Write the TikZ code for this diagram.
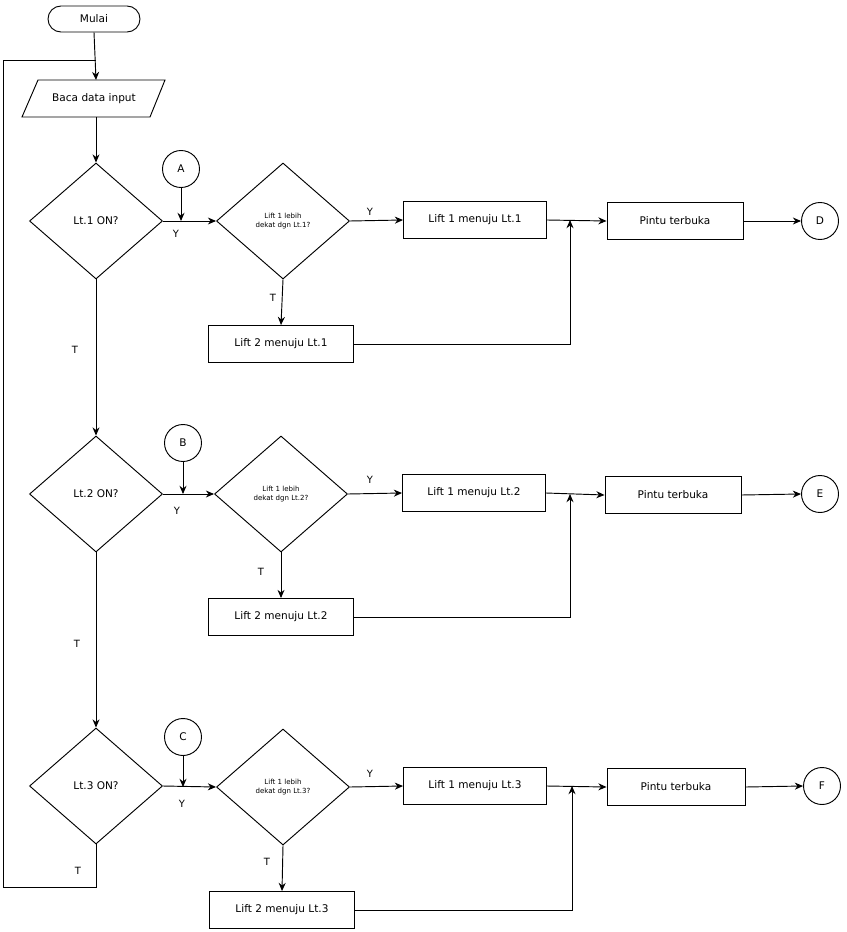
\documentclass[tikz,border=0pt]{standalone}
\usepackage{fontspec}
\setmainfont{DejaVu Sans}
\usetikzlibrary{shapes.geometric,arrows.meta}
\begin{document}
\begin{tikzpicture}[x=0.03cm,y=-0.03cm,
  every node/.style={font=\fontsize{9}{10}\selectfont},
  box/.style={draw,thick,minimum width=143*0.03cm,minimum height=37*0.03cm,inner sep=0},
  dia/.style={draw,thick,diamond,minimum width=133*0.03cm,minimum height=116*0.03cm,inner sep=0,aspect=1.15},
  circ/.style={draw,thick,circle,minimum size=37*0.03cm,inner sep=0},
  lbl/.style={font=\fontsize{8.5}{9}\selectfont},
  small/.style={font=\fontsize{6}{7}\selectfont,align=center},
  arr/.style={thick,-{Stealth[length=7pt,width=6pt]}},
  ln/.style={thick}]
\useasboundingbox (0,0) rectangle (846,932);
\node[draw,thick,rounded corners=13*0.03cm,minimum width=92*0.03cm,minimum height=26*0.03cm] (mulai) at (94,19) {Mulai};
\node[minimum width=143*0.03cm,minimum height=37*0.03cm,inner sep=0] (baca) at (94,99) {Baca data input};
\draw[thick] (38,80) -- (165,80) -- (150,117) -- (22,117) -- cycle;
\coordinate (j) at (96,60);
\coordinate (bt) at (96,80);
\draw[arr] (mulai.south) -- (bt);
\node[dia] (d1) at (96,221) {Lt.1 ON?};
\node[dia] (e1) at (283,221) {}; \node[small] at (283,221) {Lift 1 lebih\\dekat dgn Lt.1?};
\node[circ] (A) at (181,169) {A};
\node[box] (l1) at (475,220) {Lift 1 menuju Lt.1};
\node[box,minimum width=136*0.03cm] (p1) at (675,221) {Pintu terbuka};
\node[circ] (D) at (820,221) {D};
\node[box,minimum width=145*0.03cm] (m1) at (281,344) {Lift 2 menuju Lt.1};
\coordinate (a1) at (181,221);
\coordinate (c1) at (570,220); \coordinate (k1) at (570,344);

\node[dia] (d2) at (96,494) {Lt.2 ON?};
\node[dia] (e2) at (281,494) {}; \node[small] at (281,494) {Lift 1 lebih\\dekat dgn Lt.2?};
\node[circ] (B) at (183,443) {B};
\node[box] (l2) at (474,493) {Lift 1 menuju Lt.2};
\node[box,minimum width=136*0.03cm] (p2) at (673,495) {Pintu terbuka};
\node[circ] (E) at (820,494) {E};
\node[box,minimum width=145*0.03cm] (m2) at (281,617) {Lift 2 menuju Lt.2};
\coordinate (a2) at (183,494);
\coordinate (c2) at (570,494); \coordinate (k2) at (570,617);

\node[dia] (d3) at (96,786) {Lt.3 ON?};
\node[dia] (e3) at (283,787) {}; \node[small] at (283,787) {Lift 1 lebih\\dekat dgn Lt.3?};
\node[circ] (C) at (183,737) {C};
\node[box] (l3) at (475,786) {Lift 1 menuju Lt.3};
\node[box,minimum width=138*0.03cm] (p3) at (676,787) {Pintu terbuka};
\node[circ] (F) at (822,786) {F};
\node[box,minimum width=145*0.03cm] (m3) at (282,910) {Lift 2 menuju Lt.3};
\coordinate (a3) at (183,787);
\coordinate (c3) at (572,786); \coordinate (k3) at (572,910);

\foreach \i/\X in {1/A,2/B,3/C}{
  \draw[arr] (d\i.east) -- (e\i.west);
  \draw[arr] (\X.south) -- (a\i);
  \draw[arr] (e\i.east) -- (l\i.west);
  \draw[arr] (l\i.east) -- (p\i.west);
  \draw[arr] (e\i.south) -- (m\i.north);
  \draw[arr] (m\i.east) -- (k\i) -- (c\i);
}
\draw[arr] (p1.east) -- (D.west);
\draw[arr] (p2.east) -- (E.west);
\draw[arr] (p3.east) -- (F.west);
\draw[arr] (96,117) -- (d1.north);
\draw[arr] (d1.south) -- (d2.north);
\draw[arr] (d2.south) -- (d3.north);
\coordinate (b1) at (96,887); \coordinate (b2) at (3,887); \coordinate (b3) at (3,60);
\draw[thick] (d3.south) -- (b1) -- (b2) -- (b3) -- (j);
% labels
\node[lbl] at (176,234) {Y};
\node[lbl] at (370,212) {Y};
\node[lbl] at (273,298) {T};
\node[lbl] at (75,350) {T};
\node[lbl] at (177,511) {Y};
\node[lbl] at (370,480) {Y};
\node[lbl] at (261,572) {T};
\node[lbl] at (77,644) {T};
\node[lbl] at (182,804) {Y};
\node[lbl] at (370,774) {Y};
\node[lbl] at (267,862) {T};
\node[lbl] at (78,871) {T};
\end{tikzpicture}
\end{document}
